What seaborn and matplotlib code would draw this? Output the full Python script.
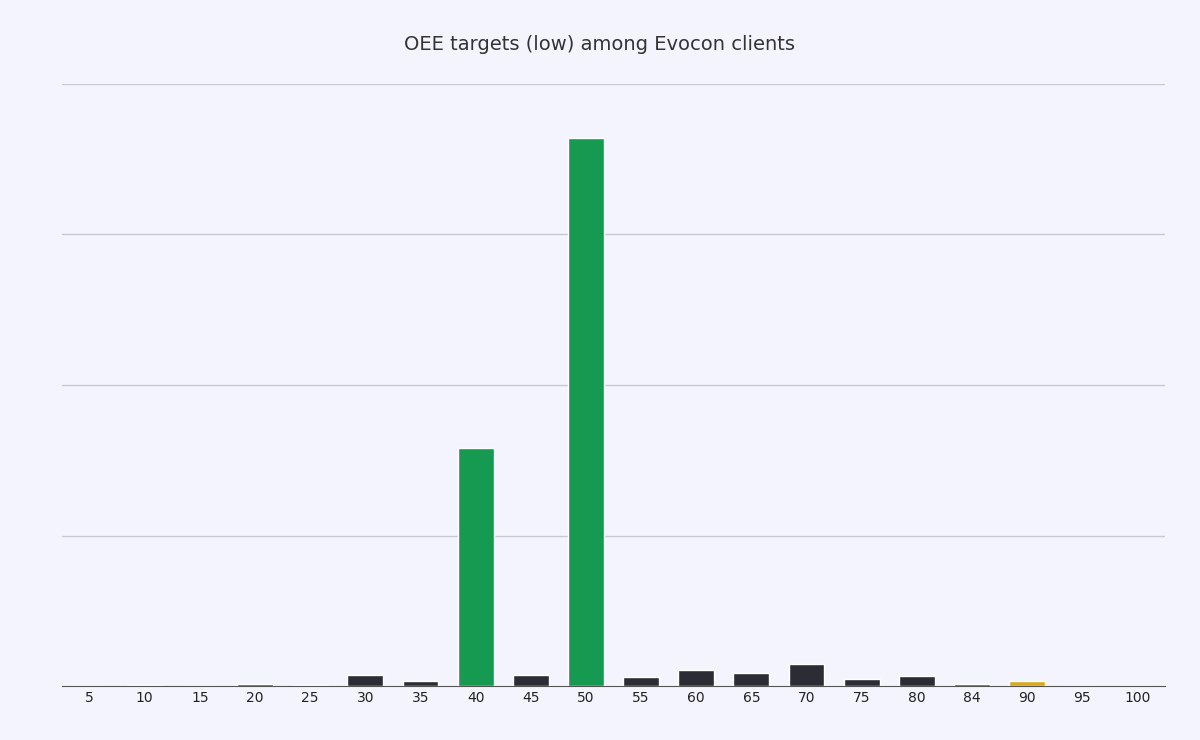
import matplotlib.pyplot as plt
import seaborn as sns
import pandas as pd

CATEGORIES = ["5", "10", "15", "20", "25", "30", "35", "40", "45", "50",
              "55", "60", "65", "70", "75", "80", "84", "90", "95", "100"]
VALUES = [0, 0.4, 0, 0.7, 0.4, 3.6, 1.5, 79, 3.6, 182,
          3.0, 5.2, 4.3, 7.2, 2.3, 3.3, 0.7, 1.5, 0, 0]
COLORS = ["#2b2b36"] * 7 + ["#00b050", "#2b2b36", "#00b050"] + \
         ["#2b2b36"] * 7 + ["#f5b800", "#2b2b36", "#2b2b36"]

BG = "#f4f4fe"

df = pd.DataFrame({"target": CATEGORIES, "count": VALUES})

sns.set_style("white")
fig = plt.figure(figsize=(12, 7.4), dpi=100, facecolor=BG)
ax = fig.add_axes([62 / 1200, 1 - 686 / 740, 1103 / 1200, 602 / 740])
ax.set_facecolor(BG)

sns.barplot(data=df, x="target", y="count", hue="target",
            palette=COLORS, width=0.65, legend=False, ax=ax)

ax.set_ylim(0, 200)
ax.set_yticks([50, 100, 150, 200])
ax.yaxis.grid(True, color="#c9c9d3", linewidth=1)
ax.set_axisbelow(True)
ax.set_yticklabels([])
ax.tick_params(axis="y", length=0)
ax.tick_params(axis="x", length=0, labelsize=10, colors="#222222")
for side in ["top", "right", "left"]:
    ax.spines[side].set_visible(False)
ax.spines["bottom"].set_color("#555555")
ax.set_xlabel("")
ax.set_ylabel("")
ax.set_xlim(-0.5, len(CATEGORIES) - 0.5)

fig.text(0.5, 1 - 45 / 740, "OEE targets (low) among Evocon clients",
         ha="center", va="center", fontsize=14, color="#333333")

fig.savefig("out.png", facecolor=BG)
